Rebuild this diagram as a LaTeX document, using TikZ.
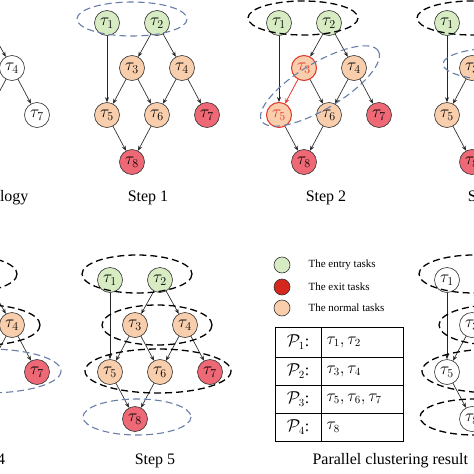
\documentclass[tikz,border=0pt]{standalone}
\usepackage{fontspec}
\setmainfont{Liberation Serif}
\usetikzlibrary{arrows.meta}
\definecolor{entryc}{RGB}{216,236,196}
\definecolor{exitc}{RGB}{238,104,118}
\definecolor{normc}{RGB}{249,206,172}
\definecolor{legred}{RGB}{212,40,30}
\definecolor{bluec}{RGB}{104,126,168}
\definecolor{hlred}{RGB}{228,52,40}
\tikzset{
 task/.style={circle, draw=black!80, line width=0.6pt, minimum size=25pt, inner sep=0pt, font=\fontsize{17}{17}\selectfont},
 entry/.style={task, fill=entryc},
 exit/.style={task, fill=exitc},
 normal/.style={task, fill=normc},
 sel/.style={},
 seledge/.style={},
 edge/.style={-{Stealth[length=5pt,width=4pt]}, line width=0.65pt, draw=black!85},
 blk/.style={dash pattern=on 7pt off 4pt, line width=1.3pt, draw=black},
 blu/.style={dash pattern=on 7pt off 4pt, line width=1.1pt, draw=bluec},
 lbl/.style={font=\fontsize{16}{16}\selectfont},
 legdot/.style={circle, draw=black!80, line width=0.6pt, minimum size=16pt, inner sep=0pt},
 legtxt/.style={anchor=west, font=\fontsize{11}{11}\selectfont},
 tabtxt/.style={font=\fontsize{16}{16}\selectfont},
 whitenodes/.style={entry/.style={task, fill=white}, exit/.style={task, fill=white}, normal/.style={task, fill=white}},
}
\newcommand\taskgraph[3]{%
 \begin{scope}[shift={(#2,#3)}]
  \node[entry] (#1t1) at (107,23) {$\tau_1$};
  \node[entry] (#1t2) at (157,23) {$\tau_2$};
  \node[normal,sel] (#1t3) at (132,68) {$\tau_3$};
  \node[normal] (#1t4) at (182,68) {$\tau_4$};
  \node[normal,sel] (#1t5) at (107,115) {$\tau_5$};
  \node[normal] (#1t6) at (157,115) {$\tau_6$};
  \node[exit] (#1t7) at (207,115) {$\tau_7$};
  \node[exit] (#1t8) at (132,162) {$\tau_8$};
  \draw[edge] (#1t1) -- (#1t5);
  \draw[edge] (#1t2) -- (#1t3);
  \draw[edge] (#1t2) -- (#1t4);
  \draw[edge,seledge] (#1t3) -- (#1t5);
  \draw[edge] (#1t3) -- (#1t6);
  \draw[edge] (#1t4) -- (#1t6);
  \draw[edge] (#1t4) -- (#1t7);
  \draw[edge] (#1t5) -- (#1t8);
  \draw[edge] (#1t6) -- (#1t8);
 \end{scope}}
\begin{document}
\begin{tikzpicture}[x=1pt,y=-1pt]
\useasboundingbox (0,0) rectangle (474,474);
\clip (0,0) rectangle (474,474);
% Topology
\begin{scope}[whitenodes]
\taskgraph{a}{-170}{0}
\end{scope}
\node[lbl, anchor=east] (labTopo) at (32,198) {Topology};
% Step 1
\taskgraph{b}{0}{0}
\draw[blu] (132,19) ellipse [x radius=55, y radius=17];
\node[lbl] (labS1) at (148,198) {Step 1};
% Step 2
\begin{scope}[sel/.style={draw=hlred, text=hlred, line width=1pt}, seledge/.style={color=hlred, line width=0.8pt}]
\taskgraph{c}{172}{0}
\end{scope}
\draw[blk] (303,18) ellipse [x radius=55, y radius=17];
\draw[blu, rotate around={31:(320,86)}] (320,86) ellipse [x radius=68, y radius=23];
\node[lbl] (labS2) at (326,198) {Step 2};
% Step 3
\taskgraph{d}{340}{0}
\draw[blk] (472,18) ellipse [x radius=55, y radius=17];
\draw[blu] (498,64) ellipse [x radius=55, y radius=16];
\node[lbl] (labS3) at (488,198) {Step 3};
% Step 4
\taskgraph{e}{-170}{257}
\draw[blk] (-38,274) ellipse [x radius=55, y radius=19];
\draw[blk] (-15,325) ellipse [x radius=55, y radius=20];
\draw[blu] (-12,371) ellipse [x radius=73, y radius=22];
\node[lbl] (labS4) at (-15,461) {Step 4};
% Step 5
\taskgraph{f}{3}{257}
\draw[blk] (137,274) ellipse [x radius=55, y radius=19];
\draw[blk] (157,325) ellipse [x radius=55, y radius=20];
\draw[blk] (158,371) ellipse [x radius=73, y radius=22];
\draw[blu] (137,417) ellipse [x radius=54, y radius=18];
\node[lbl] (labS5) at (155,461) {Step 5};
% Final result
\begin{scope}[whitenodes]
\taskgraph{g}{340}{257}
\end{scope}
\draw[blk] (474,274) ellipse [x radius=55, y radius=19];
\draw[blk] (494,325) ellipse [x radius=55, y radius=20];
\draw[blk] (495,371) ellipse [x radius=73, y radius=22];
\draw[blk] (474,417) ellipse [x radius=54, y radius=18];
\node[lbl, anchor=west] (labRes) at (309,461) {Parallel clustering result};
% Legend
\node[legdot, fill=entryc] (legA) at (282,265) {};
\node[legtxt] (legAt) at (305,265) {The entry tasks};
\node[legdot, fill=legred] (legB) at (282,287) {};
\node[legtxt] (legBt) at (305,287) {The exit tasks};
\node[legdot, fill=normc] (legC) at (282,308) {};
\node[legtxt] (legCt) at (305,308) {The normal tasks};
% Table
\draw[line width=0.8pt] (275,327) rectangle (403,441);
\draw[line width=0.8pt] (321,327) -- (321,441);
\draw[line width=0.8pt] (275,357) -- (403,357);
\draw[line width=0.8pt] (275,385) -- (403,385);
\draw[line width=0.8pt] (275,413) -- (403,413);
\node[tabtxt] (p1) at (298,342) {$\mathcal{P}_1$:};
\node[tabtxt] (p2) at (298,371) {$\mathcal{P}_2$:};
\node[tabtxt] (p3) at (298,399) {$\mathcal{P}_3$:};
\node[tabtxt] (p4) at (298,427) {$\mathcal{P}_4$:};
\node[tabtxt, anchor=west] (v1) at (323,342) {$\tau_1,\tau_2$};
\node[tabtxt, anchor=west] (v2) at (323,371) {$\tau_3,\tau_4$};
\node[tabtxt, anchor=west] (v3) at (323,399) {$\tau_5,\tau_6,\tau_7$};
\node[tabtxt, anchor=west] (v4) at (323,427) {$\tau_8$};
\end{tikzpicture}
\end{document}
